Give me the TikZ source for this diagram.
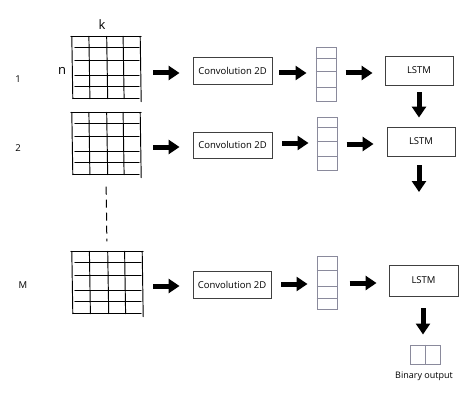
\documentclass[tikz,border=0pt]{standalone}
\usepackage{fontspec}
\setmainfont{Open Sans}
\usetikzlibrary{arrows.meta,calc}
\begin{document}
\begin{tikzpicture}[x=1pt,y=-1pt,
  gridbox/.style={minimum width=68pt,minimum height=62pt,inner sep=0pt},
  procbox/.style={draw=black!75,line width=0.9pt,minimum width=79pt,minimum height=27pt,inner sep=0pt,font=\fontsize{9.5}{11}\selectfont},
  lstmbox/.style={draw=black!75,line width=0.9pt,minimum width=68pt,minimum height=29pt,inner sep=0pt,font=\fontsize{9.5}{11}\selectfont},
  vecbox/.style={draw=vecgray,line width=1pt,minimum width=20pt,minimum height=53pt,inner sep=0pt},
  lbl/.style={font=\fontsize{9.5}{11}\selectfont,inner sep=0pt},
  biglbl/.style={font=\fontsize{13}{15}\selectfont,inner sep=0pt},
  bigarr/.style={line width=5pt,-{Triangle[width=14pt,length=11pt]}},
  gridline/.style={line width=0.95pt,line cap=round},
  cellline/.style={draw=vecgray,line width=1pt},
]
\definecolor{vecgray}{HTML}{8A8A9C}
\useasboundingbox (0,0) rectangle (474,412);

% grids
\node[gridbox] (g1) at (106,67.5) {};
\node[gridbox] (g2) at (106,143.5) {};
\node[gridbox,minimum width=70pt] (gM) at (107,282.5) {};
\foreach \g in {g1,g2,gM}{
  % frame, hand-drawn look
  \draw[gridline] ([xshift=-1pt]\g.north west) -- ([xshift=1pt]\g.north east);
  \draw[gridline] (\g.north west) -- ([xshift=1pt]\g.south west);
  \draw[gridline] (\g.north east) -- ([xshift=1pt,yshift=-3pt]\g.south east);
  \draw[gridline] ([xshift=1pt]\g.south west) -- ([xshift=-1pt]\g.south east);
  \foreach \f in {0.25,0.51,0.75}{
    \draw[gridline] ($(\g.north west)!\f!(\g.north east)$) -- ($(\g.south west)!\f!(\g.south east)+(1,0)$);
  }
  \foreach \f in {0.18,0.38,0.62,0.81}{
    \draw[gridline] ($(\g.north west)!\f!(\g.south west)+(3,0)$) -- ($(\g.north east)!\f!(\g.south east)+(-1,0)$);
  }
}

% labels
\node[biglbl] (k) at (102,25) {k};
\node[biglbl] (n) at (62,71) {n};
\node[lbl] (l1) at (18,79) {1};
\node[lbl] (l2) at (18,148) {2};
\node[lbl] (lM) at (23,285) {M};

% conv boxes
\node[procbox] (c1) at (232.5,70.5) {Convolution 2D};
\node[procbox,minimum height=26pt] (c2) at (232.5,145) {Convolution 2D};
\node[procbox,minimum width=78pt] (cM) at (232,284.5) {Convolution 2D};

% vectors
\node[vecbox] (v1) at (326,74.5) {};
\node[vecbox] (v2) at (327,143.5) {};
\node[vecbox] (vM) at (327,282.5) {};
\foreach \f in {0.21,0.45,0.74}{
  \draw[cellline] ($(v1.north west)!\f!(v1.south west)$) -- ($(v1.north east)!\f!(v1.south east)$);
}
\foreach \f in {0.21,0.47,0.74}{
  \draw[cellline] ($(v2.north west)!\f!(v2.south west)$) -- ($(v2.north east)!\f!(v2.south east)$);
}
\foreach \f in {0.28,0.57,0.79}{
  \draw[cellline] ($(vM.north west)!\f!(vM.south west)$) -- ($(vM.north east)!\f!(vM.south east)$);
}

% LSTM boxes
\node[lstmbox] (L1) at (419,70.5) {LSTM};
\node[lstmbox] (L2) at (421,141.5) {LSTM};
\node[lstmbox,minimum width=69pt,minimum height=31pt] (LM) at (423.5,280.5) {LSTM};

% binary output
\node[draw=vecgray,line width=1pt,minimum width=30pt,minimum height=19pt,inner sep=0pt] (B) at (425,354.5) {};
\draw[cellline] (B.north) -- (B.south);
\node[lbl,font=\fontsize{9}{11}\selectfont] (bt) at (424,376) {Binary output};

% dashed link
\draw[line width=1pt,dash pattern=on 8pt off 5pt,shorten <=12pt,shorten >=10pt] (g2.south) -- (gM.north);

% row 1 arrows
\draw[bigarr,shorten <=13pt,shorten >=13pt] ([yshift=-5.5pt]g1.east) -- ([yshift=-2.5pt]c1.west);
\draw[bigarr,shorten <=7pt,shorten >=9pt] ([yshift=-2.5pt]c1.east) -- ([yshift=1.5pt]v1.west);
\draw[bigarr,shorten <=9pt,shorten >=12pt] ([yshift=1.5pt]v1.east) -- ([yshift=-2.5pt]L1.west);
% row 2 arrows
\draw[bigarr,shorten <=13pt,shorten >=13pt] ([yshift=-3.5pt]g2.east) -- ([yshift=-2pt]c2.west);
\draw[bigarr,shorten <=10pt,shorten >=8pt] ([yshift=2pt]c2.east) -- ([yshift=0.5pt]v2.west);
\draw[bigarr,shorten <=9pt,shorten >=13pt] ([yshift=-0.5pt]v2.east) -- ([yshift=-2.5pt]L2.west);
% row M arrows
\draw[bigarr,shorten <=11pt,shorten >=13pt] ([yshift=-3.5pt]gM.east) -- ([yshift=-1.5pt]cM.west);
\draw[bigarr,shorten <=10pt,shorten >=9pt] ([yshift=0.5pt]cM.east) -- ([yshift=-1.5pt]vM.west);
\draw[bigarr,shorten <=12pt,shorten >=12pt] ([yshift=-0.5pt]vM.east) -- ([yshift=-2.5pt]LM.west);

% down arrows
\draw[bigarr,shorten <=7pt,shorten >=9pt] (L1.south) -- ([xshift=-2pt]L2.north);
\coordinate (d2end) at (419,192);
\draw[bigarr,shorten <=9pt] ([xshift=-2pt]L2.south) -- (d2end);
\draw[bigarr,shorten <=12pt,shorten >=10pt] ([xshift=-0.5pt]LM.south) -- ([xshift=-2pt]B.north);
\end{tikzpicture}
\end{document}
